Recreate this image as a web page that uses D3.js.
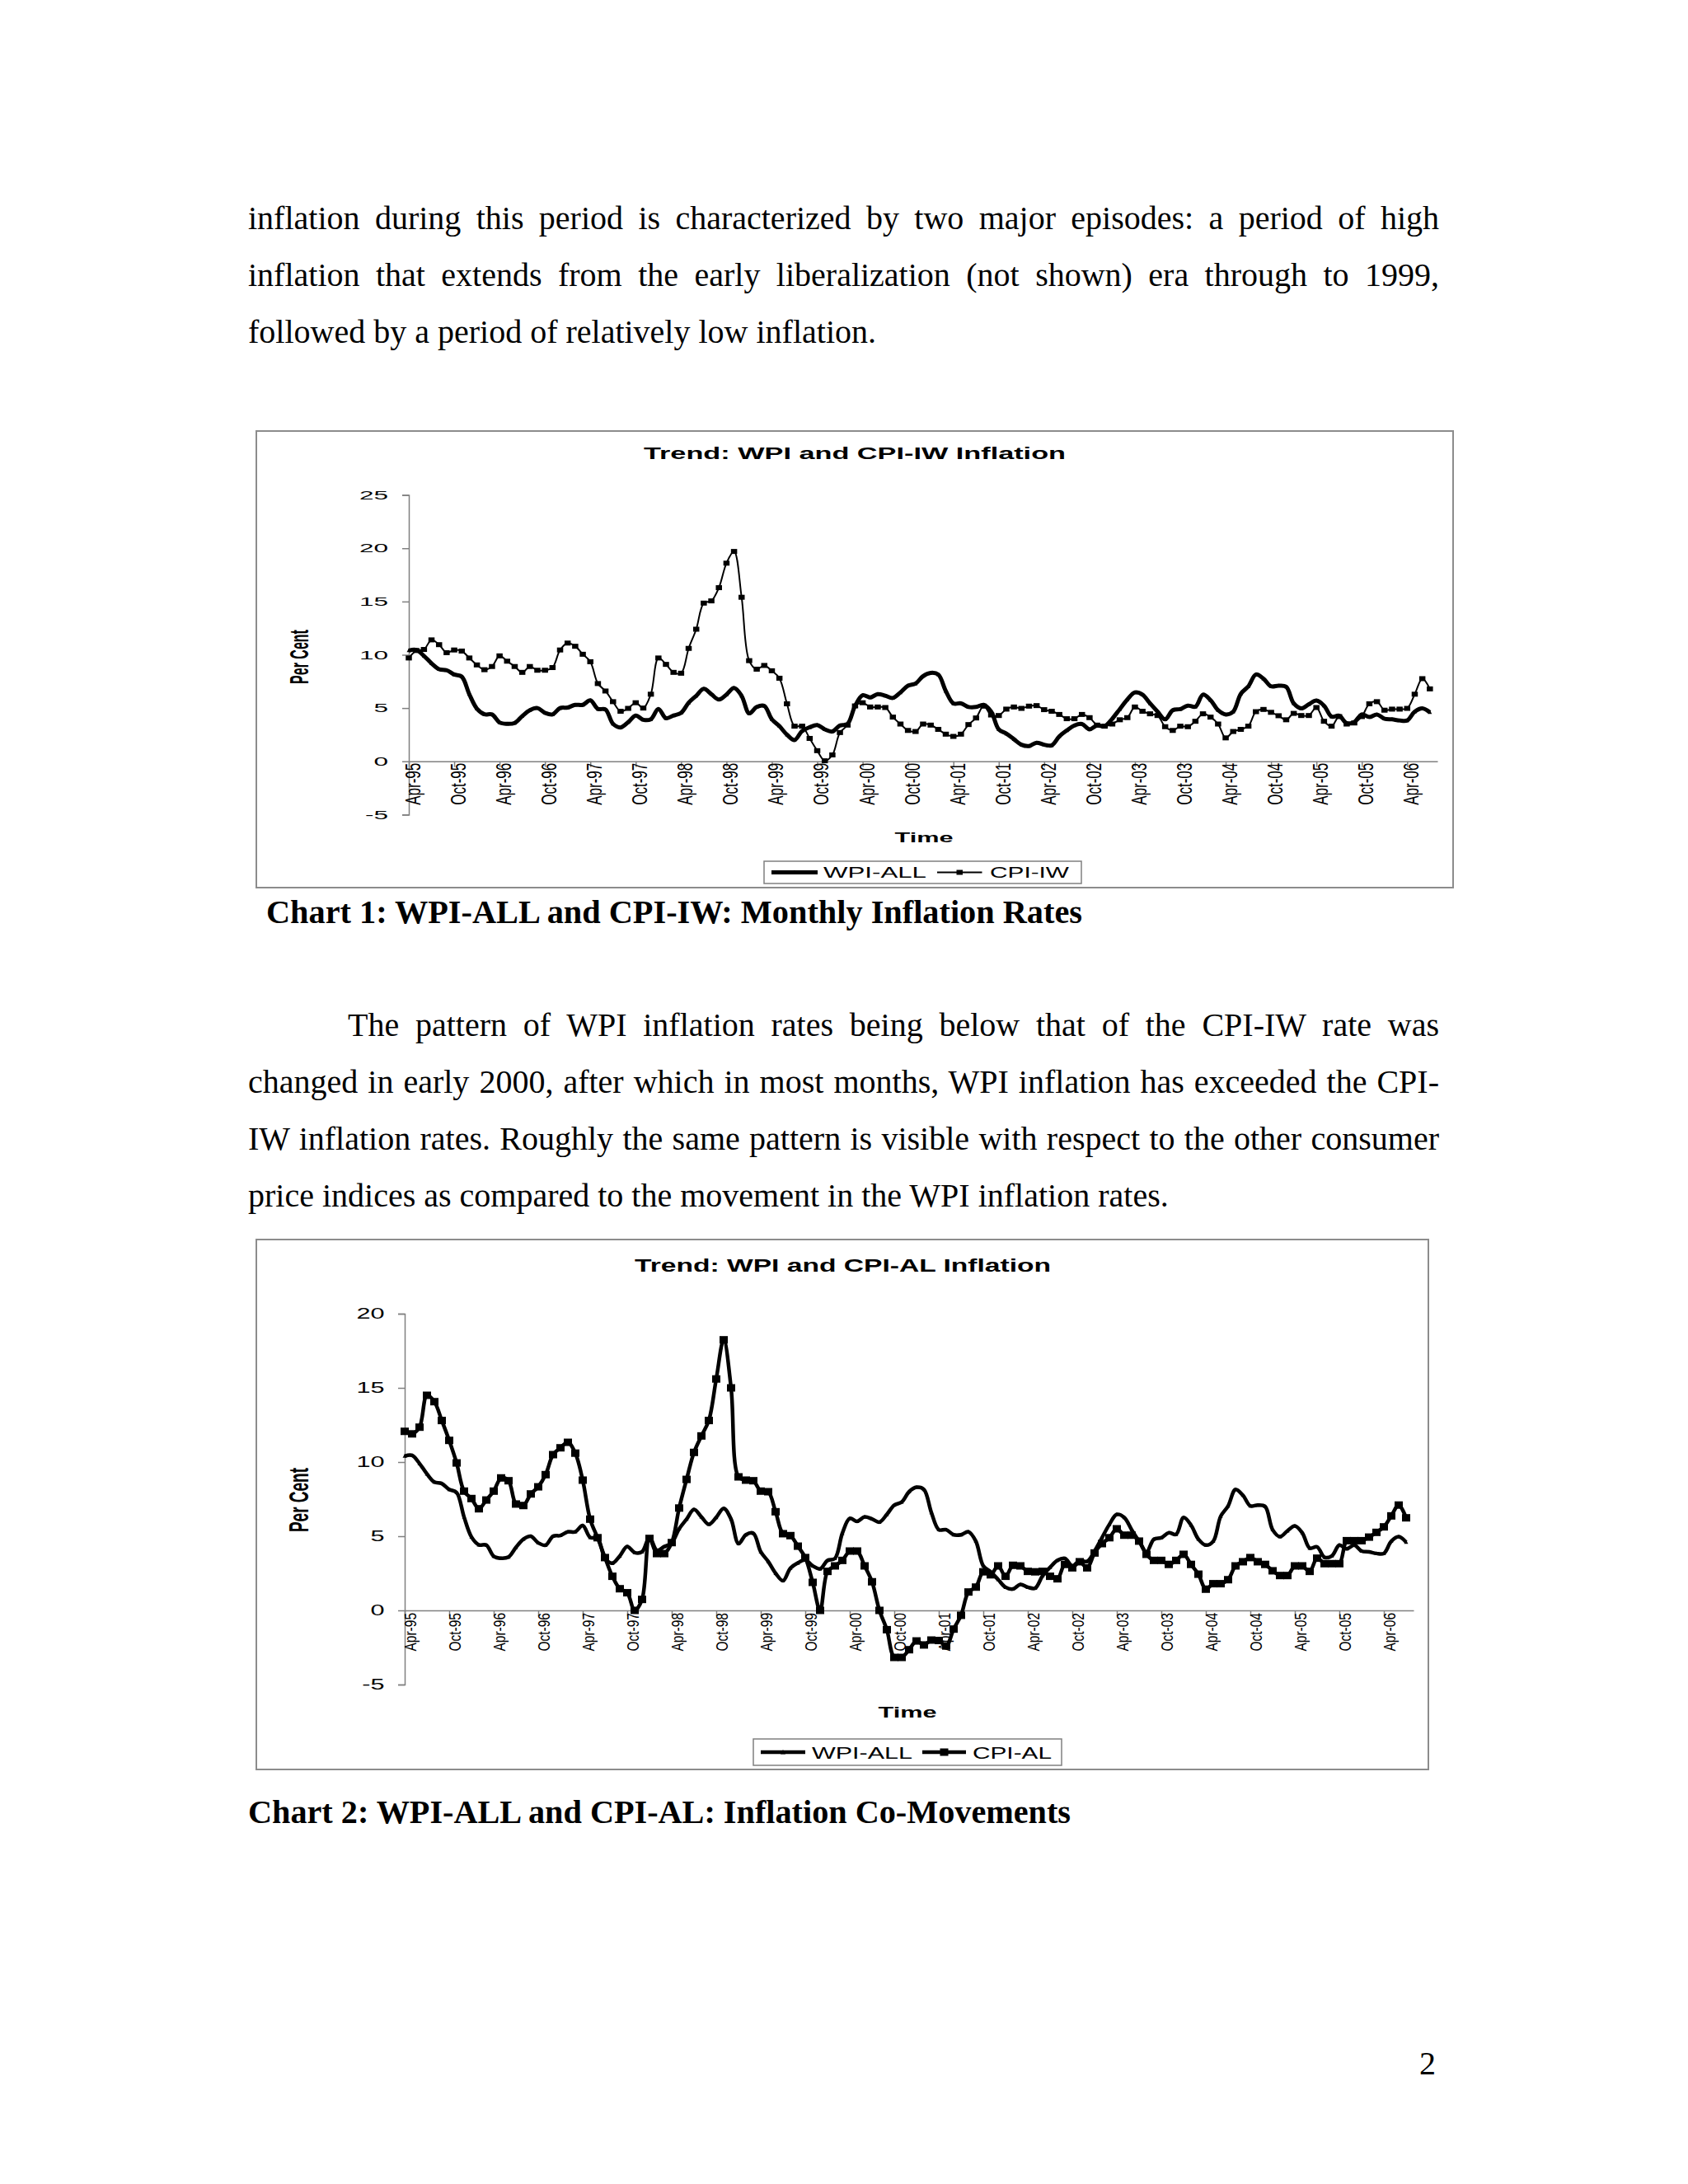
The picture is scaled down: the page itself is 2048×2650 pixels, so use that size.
<!DOCTYPE html>
<html>
<head>
<meta charset="utf-8">
<script src="https://cdn.jsdelivr.net/npm/d3@7"></script>
<style>
  body { margin: 0; background: #fff; }
</style>
</head>
<body>
<div id="page"></div>
<script>
// tick labels on the category axis (every 6th month, Apr-95 .. Apr-06)
const tickLabels = ["Apr-95","Oct-95","Apr-96","Oct-96","Apr-97","Oct-97","Apr-98","Oct-98",
  "Apr-99","Oct-99","Apr-00","Oct-00","Apr-01","Oct-01","Apr-02","Oct-02","Apr-03","Oct-03",
  "Apr-04","Oct-04","Apr-05","Oct-05","Apr-06"];

// monthly inflation, Apr-95 .. Jul-06
const wpiAll = [10.4,10.45,9.9,9.2,8.65,8.55,8.15,7.95,6.3,4.95,
  4.42,4.4,3.65,3.52,3.6,4.25,4.8,5.0,4.55,4.4,
  5.0,5.05,5.3,5.3,5.72,4.92,4.87,3.52,3.18,3.67,
  4.3,3.9,3.95,4.92,4.05,4.3,4.55,5.5,6.15,6.8,
  6.3,5.8,6.27,6.88,6.15,4.5,5.1,5.2,3.95,3.3,
  2.5,2.0,2.85,3.2,3.4,3.0,2.8,3.37,3.5,5.2,
  6.2,6.0,6.3,6.16,5.95,6.47,7.1,7.3,8.0,8.3,
  8.15,6.6,5.44,5.44,5.1,5.1,5.3,4.66,3.0,2.6,
  2.08,1.56,1.44,1.75,1.56,1.5,2.34,2.9,3.37,3.5,
  3.0,3.37,3.3,4.0,4.9,5.8,6.47,6.26,5.44,4.66,
  3.94,4.8,4.9,5.23,5.13,6.26,5.75,4.8,4.4,4.66,
  6.34,7.04,8.15,7.76,7.04,7.1,7.0,5.44,4.97,5.36,
  5.7,5.23,4.2,4.28,3.58,3.68,4.4,4.15,4.4,4.0,
  3.94,3.84,3.84,4.66,4.97,4.6];

const cpiIW = [9.7,10.4,10.5,11.4,10.95,10.2,10.45,10.35,9.7,9.05,
  8.6,8.9,9.9,9.4,8.9,8.35,8.9,8.55,8.55,8.8,
  10.45,11.1,10.8,10.05,9.35,7.3,6.6,5.6,4.7,4.97,
  5.5,5.0,6.3,9.7,9.1,8.35,8.27,10.6,12.4,14.85,
  15.06,16.3,18.6,19.7,15.4,9.45,8.65,9.0,8.5,7.8,
  5.4,3.3,3.3,2.15,1.0,0.05,0.6,2.7,3.4,5.2,
  5.5,5.1,5.1,5.05,4.15,3.5,2.9,2.8,3.5,3.4,
  3.0,2.55,2.34,2.55,3.45,4.07,5.18,4.35,4.3,4.9,
  5.1,4.97,5.18,5.23,4.85,4.7,4.4,4.0,4.0,4.4,
  4.1,3.4,3.3,3.5,3.9,4.1,5.1,4.7,4.46,4.3,
  3.25,2.9,3.3,3.25,3.76,4.46,4.15,3.5,2.2,2.8,
  3.0,3.3,4.66,4.87,4.6,4.28,3.9,4.5,4.3,4.3,
  5.05,3.76,3.3,4.2,3.5,3.6,4.2,5.4,5.6,4.8,
  4.9,4.9,4.97,6.3,7.76,6.8];

const cpiAL = [12.07,11.9,12.35,14.5,14.07,12.8,11.46,9.94,8.04,7.54,
  6.85,7.44,8.04,8.93,8.74,7.17,7.07,7.85,8.33,9.15,
  10.5,10.96,11.33,10.6,8.78,6.15,4.9,3.56,2.3,1.46,
  1.19,0,0.74,4.85,3.83,3.83,4.57,6.9,8.83,10.65,
  11.76,12.8,15.6,18.24,15.0,9.0,8.78,8.74,8.04,8.0,
  6.65,5.17,5.04,4.33,3.56,1.89,0,2.63,3.0,3.37,
  4.0,4.0,3.0,1.93,0,-1.3,-3.17,-3.17,-2.65,-2.06,
  -2.33,-2.0,-2.03,-2.4,-1.26,-0.33,1.24,1.57,2.6,2.4,
  3.0,2.3,3.04,3.0,2.63,2.6,2.63,2.3,2.13,3.1,
  2.87,3.28,2.87,3.87,4.5,4.9,5.5,5.07,5.07,4.67,
  3.78,3.37,3.37,3.1,3.37,3.78,3.1,2.44,1.43,1.8,
  1.8,2.07,3.0,3.28,3.56,3.28,3.1,2.67,2.35,2.35,
  3.0,3.0,2.63,3.52,3.15,3.15,3.15,4.7,4.7,4.7,
  4.94,5.26,5.63,6.37,7.1,6.24];

const para1 = [
  "inflation during this period is characterized by two major episodes: a period of high",
  "inflation that extends from the early liberalization (not shown) era through to 1999,",
  "followed by a period of relatively low inflation."
];
const para2 = [
  "The pattern of WPI inflation rates being below that of the CPI-IW rate was",
  "changed in early 2000, after which in most months, WPI inflation has exceeded the CPI-",
  "IW inflation rates. Roughly the same pattern is visible with respect to the other consumer",
  "price indices as compared to the movement in the WPI inflation rates."
];

const serif = "'Liberation Serif','Times New Roman',serif";
const sans = "'Liberation Sans',Arial,sans-serif";

const svg = d3.select("#page").append("svg")
  .attr("width", 2048).attr("height", 2650);
svg.append("rect").attr("width", 2048).attr("height", 2650).attr("fill", "#fff");

// one line of body text, justified to the right margin when asked
function bodyLine(str, x, y, right, justify, bold) {
  var t = svg.append("text")
    .attr("x", x).attr("y", y)
    .attr("font-family", serif).attr("font-size", 40)
    .attr("font-weight", bold ? "bold" : "normal")
    .attr("fill", "#000")
    .text(str);
  if (justify) {
    var len = t.node().getComputedTextLength();
    var gaps = str.split(" ").length - 1;
    t.attr("word-spacing", ((right - x) - len) / gaps);
  }
  return t;
}

para1.forEach(function(s, i) { bodyLine(s, 301, 278 + i * 69, 1746, i < para1.length - 1); });
para2.forEach(function(s, i) { bodyLine(s, i == 0 ? 422 : 301, 1257 + i * 69, 1746, i < para2.length - 1); });

bodyLine("Chart 1: WPI-ALL and CPI-IW: Monthly Inflation Rates", 323, 1120, 0, false, true)
  .attr("textLength", 990).attr("lengthAdjust", "spacingAndGlyphs");
bodyLine("Chart 2: WPI-ALL and CPI-AL: Inflation Co-Movements", 301, 2212, 0, false, true)
  .attr("textLength", 998).attr("lengthAdjust", "spacingAndGlyphs");
bodyLine("2", 1742, 2517, 0, false).attr("text-anchor", "end");

// the chart pictures are stretched sideways, so text gets a horizontal scale
function stretched(g, str, x, y, size, weight, sx, anchor, rot) {
  return g.append("g")
    .attr("transform", "translate(" + x + "," + y + ") scale(" + sx + ",1)" + (rot ? " rotate(" + rot + ")" : ""))
    .append("text")
      .attr("font-family", sans).attr("font-size", size).attr("font-weight", weight)
      .attr("text-anchor", anchor).attr("dominant-baseline", "central")
      .attr("fill", "#000")
      .text(str);
}

function fixedText(g, str, x, y, size, weight, width) {
  return g.append("text")
    .attr("x", x).attr("y", y)
    .attr("font-family", sans).attr("font-size", size).attr("font-weight", weight)
    .attr("textLength", width).attr("lengthAdjust", "spacingAndGlyphs")
    .attr("fill", "#000")
    .text(str);
}

function triMarker(g, cx, cy, s) {
  g.append("path")
    .attr("d", "M" + (cx - s) + "," + (cy + s * 0.8) + "L" + cx + "," + (cy - s) + "L" + (cx + s) + "," + (cy + s * 0.8) + "Z")
    .attr("fill", "#000");
}

var drawChart = function(c) {
  var g = svg.append("g");

  g.append("rect")
    .attr("x", c.frame[0]).attr("y", c.frame[1])
    .attr("width", c.frame[2] - c.frame[0]).attr("height", c.frame[3] - c.frame[1])
    .attr("fill", "#fff").attr("stroke", "#8c8c8c").attr("stroke-width", 2);

  var x = d3.scaleLinear().domain([0, 136]).range(c.xr);
  var y = d3.scaleLinear().domain(c.yd).range(c.yr);
  var y0 = y(0);

  // y axis
  var yAxis = d3.axisLeft(y).tickValues(c.yTicks).tickSize(8).tickFormat("");
  var ya = g.append("g").attr("transform", "translate(" + c.xr[0] + ",0)").call(yAxis);
  ya.select(".domain").attr("stroke", "#808080").attr("stroke-width", 1.5);
  ya.selectAll(".tick line").attr("stroke", "#808080").attr("stroke-width", 1.5);
  c.yTicks.forEach(function(v) {
    stretched(g, String(v), c.yLab.right, y(v), c.yLab.size, "normal", c.yLab.sx, "end");
  });

  // x axis at zero, tick every 6 months
  var tickIdx = tickLabels.map(function(d, i) { return i * 6; });
  var xAxis = d3.axisBottom(x).tickValues(tickIdx).tickSize(7).tickFormat("").tickSizeOuter(0);
  var xa = g.append("g").attr("transform", "translate(0," + y0 + ")").call(xAxis);
  xa.select(".domain").attr("stroke", "#808080").attr("stroke-width", 1.5);
  xa.selectAll(".tick line").attr("stroke", "#808080").attr("stroke-width", 1.5);
  tickLabels.forEach(function(lab, i) {
    stretched(g, lab, x(tickIdx[i]) + c.xLab.dx, y0 + c.xLab.dy, c.xLab.size, "normal", c.xLab.sx, "end", -90);
  });

  // lines
  var line = d3.line()
    .x(function(d, i) { return x(i); })
    .y(function(d) { return y(d); })
    .curve(d3.curveCatmullRom.alpha(0.5));

  c.series.forEach(function(s) {
    g.append("path").datum(s.data)
      .attr("d", line)
      .attr("fill", "none").attr("stroke", "#000")
      .attr("stroke-width", s.width).attr("stroke-linejoin", "round");
    if (s.marker == "square") {
      g.append("g").selectAll("rect").data(s.data).enter().append("rect")
        .attr("x", function(d, i) { return x(i) - s.mw / 2; })
        .attr("y", function(d) { return y(d) - s.mh / 2; })
        .attr("width", s.mw).attr("height", s.mh)
        .attr("fill", "#000");
    } else {
      s.data.forEach(function(d, i) { triMarker(g, x(i), y(d), 2.5); });
    }
  });

  // titles
  fixedText(g, c.title.text, c.title.x1, c.title.base, c.title.size, "bold", c.title.x2 - c.title.x1);
  fixedText(g, "Time", c.time.cx - c.time.w / 2, c.time.base, c.time.size, "bold", c.time.w);
  stretched(g, "Per Cent", c.perCent.cx, c.perCent.cy, c.perCent.size, "bold", c.perCent.sx, "middle", -90);

  // legend
  var L = c.legend;
  g.append("rect")
    .attr("x", L.box[0]).attr("y", L.box[1])
    .attr("width", L.box[2] - L.box[0]).attr("height", L.box[3] - L.box[1])
    .attr("fill", "#fff").attr("stroke", "#808080").attr("stroke-width", 1.5);
  L.items.forEach(function(it, k) {
    var s = c.series[k];
    g.append("line")
      .attr("x1", it.x1).attr("x2", it.x2).attr("y1", L.cy).attr("y2", L.cy)
      .attr("stroke", "#000").attr("stroke-width", s.width);
    var mx = (it.x1 + it.x2) / 2;
    if (s.marker == "square") {
      g.append("rect").attr("x", mx - s.mw / 2).attr("y", L.cy - s.mh / 2)
        .attr("width", s.mw).attr("height", s.mh).attr("fill", "#000");
    } else {
      triMarker(g, mx, L.cy, 3);
    }
    fixedText(g, it.label, it.tx, L.base, L.size, "normal", it.tw);
  });
};

drawChart({
  frame: [311, 523, 1763, 1077],
  xr: [496, 1744], yd: [-5, 25], yr: [988.4, 600.6],
  yTicks: [-5, 0, 5, 10, 15, 20, 25],
  yLab: { right: 471, size: 15, sx: 2.1 },
  xLab: { size: 17, sx: 1.55, dx: 5, dy: 2 },
  title: { text: "Trend: WPI and CPI-IW Inflation", x1: 781, x2: 1293, base: 557, size: 20 },
  time: { cx: 1121, base: 1022, size: 17, w: 71 },
  perCent: { cx: 363, cy: 797, size: 16, sx: 2.0 },
  series: [
    { data: wpiAll, width: 5, marker: "tri" },
    { data: cpiIW, width: 2, marker: "square", mw: 7.5, mh: 6 }
  ],
  legend: {
    box: [927, 1045, 1312, 1072], cy: 1058.5, base: 1065, size: 18,
    items: [
      { x1: 936, x2: 992, tx: 999, tw: 125, label: "WPI-ALL" },
      { x1: 1137, x2: 1191.5, tx: 1201, tw: 96, label: "CPI-IW" }
    ]
  }
});

drawChart({
  frame: [311, 1504, 1733, 2147],
  xr: [491, 1715], yd: [-5, 20], yr: [2044, 1594],
  yTicks: [-5, 0, 5, 10, 15, 20],
  yLab: { right: 466.5, size: 17.5, sx: 1.75 },
  xLab: { size: 15.5, sx: 1.35, dx: 7, dy: 3 },
  title: { text: "Trend: WPI and CPI-AL Inflation", x1: 770, x2: 1275, base: 1543, size: 22 },
  time: { cx: 1101, base: 2084, size: 19, w: 71 },
  perCent: { cx: 362.5, cy: 1820, size: 19, sx: 1.77 },
  series: [
    { data: wpiAll, width: 4.5, marker: "tri" },
    { data: cpiAL, width: 4.5, marker: "square", mw: 10, mh: 9 }
  ],
  legend: {
    box: [914, 2110, 1288, 2142], cy: 2126, base: 2133.5, size: 21,
    items: [
      { x1: 923, x2: 977, tx: 985, tw: 122, label: "WPI-ALL" },
      { x1: 1119, x2: 1172, tx: 1180, tw: 96, label: "CPI-AL" }
    ]
  }
});
</script>
</body>
</html>
